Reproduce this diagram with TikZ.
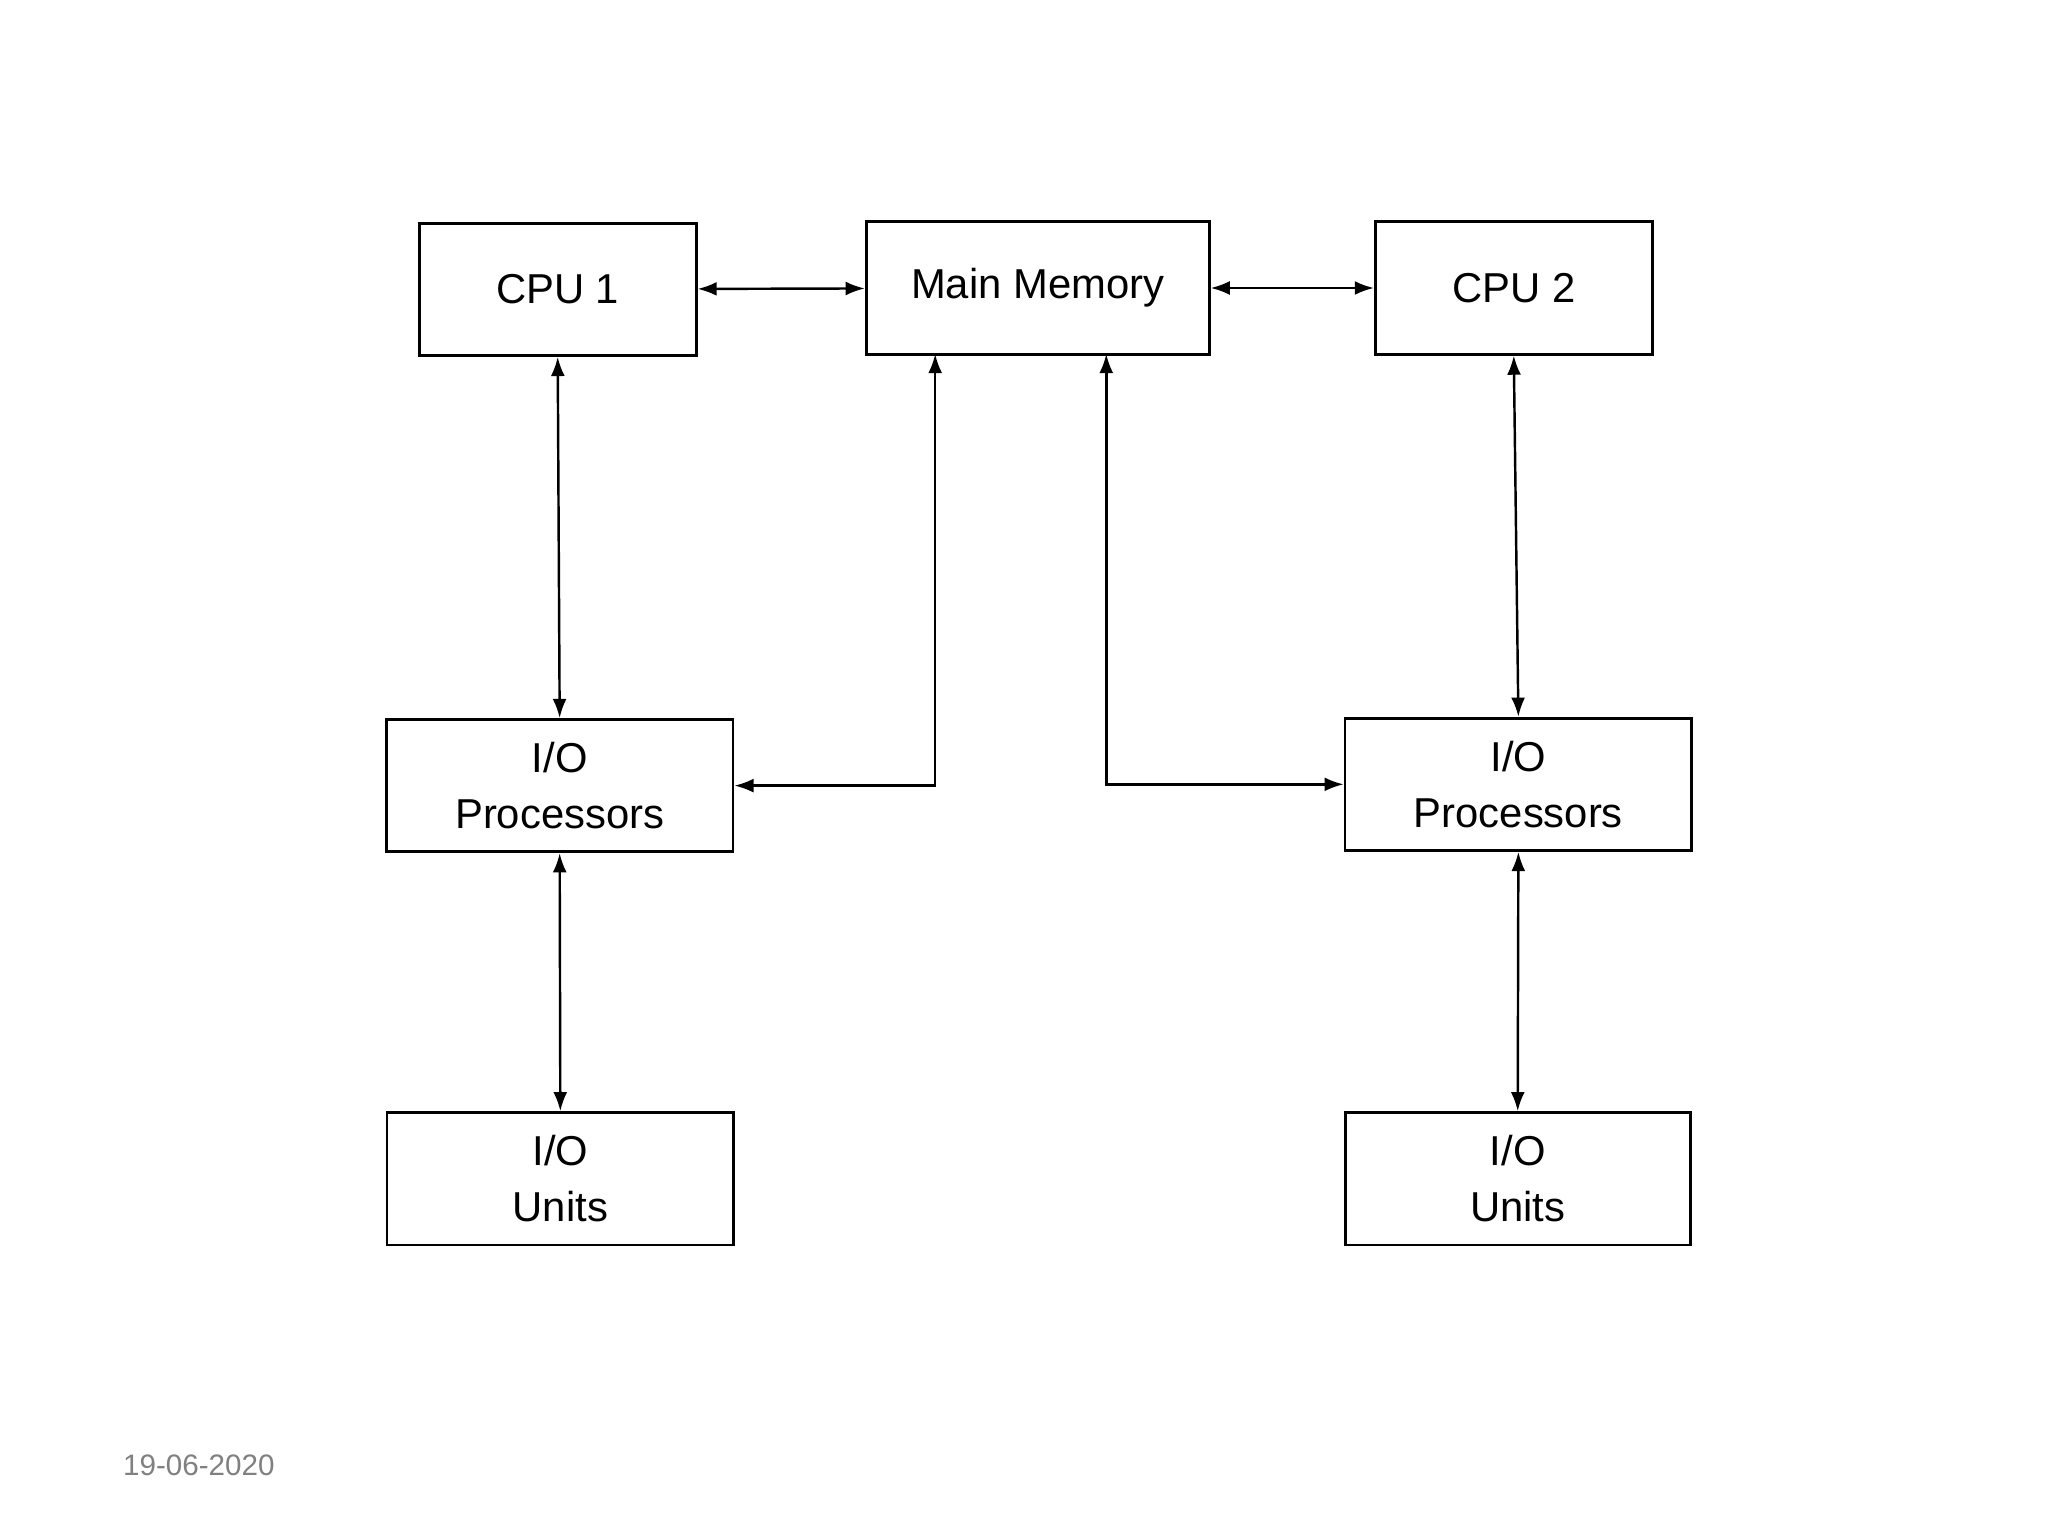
\documentclass[tikz,border=0pt]{standalone}
\usepackage{fontspec}
\setmainfont{Liberation Sans}
\usetikzlibrary{arrows.meta}

\begin{document}
\begin{tikzpicture}[x=0.75pt,y=0.75pt,yscale=-1,xscale=1,
    blk/.style={draw, line width=1.6pt, inner sep=0pt, align=center,
        font=\fontsize{24}{32}\selectfont},
    link/.style={line width=1.4pt, {Latex[length=11pt,width=8pt]}-{Latex[length=11pt,width=8pt]}}]
        %set diagram size
        \useasboundingbox (0,0) rectangle (1568,1176);
        
        % Blocks
        \node [blk, minimum width=159pt, minimum height=76pt] (cpuA) at (427,221.5) {CPU 1};
        \node [blk, minimum width=197pt, minimum height=76pt] (mem) at (794.5,220.5) {Main Memory};
        \node [blk, minimum width=159pt, minimum height=76pt] (cpuB) at (1159,220.5) {CPU 2};
        \node [blk, minimum width=199pt, minimum height=76pt] (iopA) at (428.5,601.5) {I/O\\Processors};
        \node [blk, minimum width=199pt, minimum height=76pt] (iopB) at (1162.5,600.5) {I/O\\Processors};
        \node [blk, minimum width=199pt, minimum height=76pt] (iouA) at (429,902.5) {I/O\\Units};
        \node [blk, minimum width=198pt, minimum height=76pt] (iouB) at (1162,902.5) {I/O\\Units};
        
        % Memory ports
        \coordinate (memA) at (716,271);
        \coordinate (memB) at (847,271);
        
        % Connectors
        \draw [link] (cpuA) -- (mem);
        \draw [link] (mem) -- (cpuB);
        \draw [link] (cpuA.south) -- (iopA.north);
        \draw [link] (cpuB.south) -- (iopB.north);
        \draw [link] (memA) |- (iopA.east);
        \draw [link] (memB) |- (iopB.west);
        \draw [link] (iopA.south) -- (iouA.north);
        \draw [link] (iopB.south) -- (iouB.north);
        
        % Date
        \node [anchor=west, inner sep=0pt, text=gray, font=\fontsize{17}{20}\selectfont] (date) at (94,1122) {19-06-2020};
\end{tikzpicture}
\end{document}
